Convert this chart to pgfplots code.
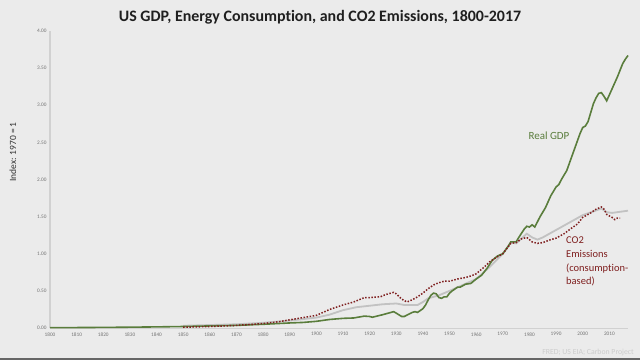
\documentclass[border=0pt]{standalone}
\usepackage{pgfplots}
\pgfplotsset{compat=1.18}
\usepackage{fontspec}
\setmainfont{Carlito}[Ligatures=NoCommon]
\definecolor{bg}{HTML}{EBEBEB}
\definecolor{gdp}{HTML}{5A7D3C}
\definecolor{co2}{HTML}{7F1F1F}
\definecolor{energy}{HTML}{C2C2C2}
\begin{document}
\begin{tikzpicture}
\fill[bg] (0,0) rectangle (640bp,360bp);
\fill[black!60] (0,0) rectangle (640bp,2bp);
\begin{axis}[
  at={(50bp,32bp)}, anchor=south west,
  scale only axis, width=578bp, height=297bp,
  xmin=1800, xmax=2017, ymin=0, ymax=4,
  axis x line*=bottom, axis y line*=left,
  x axis line style={draw=black!18, line width=0.8bp, -},
  y axis line style={draw=black!18, line width=1.5bp, -},
  major tick length=0,
  xtick={1800,1810,...,2010},
  ytick={0,0.5,1,1.5,2,2.5,3,3.5,4},
  /pgf/number format/assume math mode=true,
  xticklabel style={/pgf/number format/set thousands separator={}, yshift=-1bp},
  yticklabel style={/pgf/number format/.cd, fixed, fixed zerofill, precision=2},
  ticklabel style={font=\fontsize{5.3}{6}\selectfont, text=black!55},
  clip=false,
]
\addplot[energy, line width=1.8bp] coordinates {
(1850,0.03) (1860,0.04) (1870,0.05) (1880,0.07) (1890,0.10) (1900,0.14) (1905,0.18) (1910,0.24) (1915,0.28) (1920,0.30) (1925,0.32) (1930,0.33) (1933,0.31) (1935,0.31) (1938,0.31) (1940,0.35) (1942,0.40) (1946,0.44) (1950,0.50) (1955,0.58) (1960,0.66) (1965,0.82) (1970,1.0) (1973,1.15) (1975,1.14) (1979,1.27) (1981,1.22) (1983,1.19) (1985,1.22) (1988,1.28) (1990,1.32) (1993,1.38) (1996,1.44) (2000,1.52) (2004,1.57) (2007,1.61) (2009,1.56) (2011,1.55) (2013,1.56) (2017,1.58)
};
\addplot[gdp, line width=1.6bp] coordinates {
(1800,0.005) (1810,0.006) (1820,0.008) (1830,0.011) (1840,0.015) (1850,0.02) (1860,0.028) (1870,0.035) (1880,0.05) (1890,0.068) (1895,0.075) (1900,0.09) (1905,0.115) (1910,0.13) (1914,0.135) (1918,0.16) (1920,0.155) (1921,0.145) (1925,0.18) (1929,0.22) (1930,0.20) (1932,0.155) (1933,0.155) (1936,0.21) (1937,0.22) (1938,0.21) (1940,0.26) (1941,0.31) (1942,0.38) (1943,0.44) (1944,0.47) (1945,0.46) (1946,0.41) (1947,0.40) (1948,0.42) (1949,0.42) (1950,0.47) (1951,0.50) (1953,0.55) (1954,0.55) (1956,0.59) (1958,0.60) (1960,0.66) (1962,0.71) (1964,0.80) (1966,0.91) (1968,0.97) (1970,1.00) (1972,1.10) (1973,1.16) (1975,1.16) (1976,1.22) (1978,1.33) (1979,1.37) (1980,1.36) (1981,1.39) (1982,1.36) (1984,1.50) (1986,1.62) (1988,1.78) (1990,1.90) (1991,1.93) (1992,2.00) (1994,2.12) (1996,2.32) (1998,2.52) (1999,2.62) (2000,2.70) (2001,2.72) (2002,2.78) (2003,2.90) (2004,3.02) (2005,3.10) (2006,3.16) (2007,3.17) (2008,3.12) (2009,3.06) (2010,3.14) (2011,3.22) (2012,3.30) (2013,3.38) (2014,3.47) (2015,3.56) (2016,3.62) (2017,3.67)
};
\addplot[co2, line width=1.5bp, dash pattern=on 1.5bp off 1.6bp] coordinates {
(1850,0.01) (1860,0.02) (1870,0.035) (1880,0.06) (1886,0.085) (1890,0.11) (1895,0.14) (1900,0.17) (1905,0.25) (1910,0.31) (1914,0.35) (1918,0.41) (1920,0.41) (1924,0.42) (1926,0.45) (1929,0.48) (1930,0.46) (1932,0.39) (1934,0.35) (1936,0.38) (1938,0.42) (1940,0.47) (1942,0.53) (1944,0.58) (1946,0.61) (1948,0.63) (1950,0.63) (1953,0.66) (1956,0.68) (1958,0.70) (1960,0.73) (1963,0.82) (1965,0.89) (1968,0.96) (1970,1.0) (1973,1.14) (1975,1.15) (1977,1.20) (1979,1.22) (1981,1.16) (1983,1.14) (1985,1.15) (1988,1.19) (1990,1.21) (1993,1.27) (1996,1.35) (1998,1.40) (2000,1.49) (2003,1.55) (2005,1.60) (2007,1.63) (2008,1.60) (2009,1.53) (2010,1.51) (2011,1.49) (2012,1.46) (2013,1.48) (2014,1.48)
};
\end{axis}
\node[font=\bfseries\fontsize{16}{19}\selectfont, text=black!88] at (320bp,343bp) {US GDP, Energy Consumption, and CO2 Emissions, 1800-2017};
\node[rotate=90, font=\fontsize{9.5}{11}\selectfont, text=black!80] at (13bp,208bp) {Index: 1970 = 1};
\node[font=\fontsize{11}{13}\selectfont, text=gdp] at (549bp,224bp) {Real GDP};
\node[anchor=north west, align=left, inner sep=0pt, font=\fontsize{10.5}{13.7}\selectfont, text=co2] at (566bp,123bp) {CO2\\Emissions\\(consumption-\\based)};
\node[anchor=east, inner sep=0pt, font=\fontsize{7.8}{9}\selectfont, text=black!20] at (634bp,8bp) {FRED; US EIA; Carbon Project};
\pgfresetboundingbox
\path[use as bounding box] (0,0) rectangle (640bp,360bp);
\end{tikzpicture}
\end{document}
